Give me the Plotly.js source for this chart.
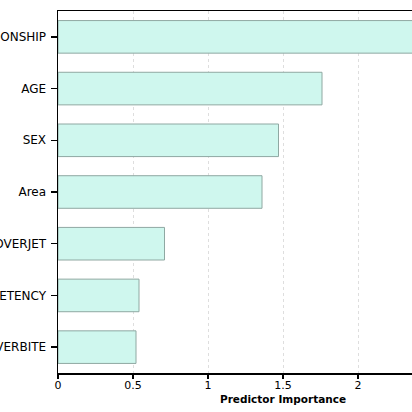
<!DOCTYPE html>
<html>
<head>
<meta charset="utf-8">
<script src="https://cdn.plot.ly/plotly-3.0.1.min.js"></script>
<style>
  html, body { margin: 0; padding: 0; background: #fff; }
  #chart { width: 412px; height: 412px; }
</style>
</head>
<body>
<div id="chart"></div>
<script>
// predictors listed top to bottom, as in the picture
const predictors = ["MOLAR RELATIONSHIP", "AGE", "SEX", "Area", "OVERJET", "LIP COMPETENCY", "OVERBITE"];
const importance = [2.5, 1.76, 1.47, 1.36, 0.71, 0.54, 0.52];
const xTicks = [0, 0.5, 1, 1.5, 2];
const xTickText = ["0", "0.5", "1", "1.5", "2"];

const data = [{
    type: 'bar',
    orientation: 'h',
    x: importance,
    y: predictors,
    marker: {
        color: '#cff7ee',
        line: { color: '#8fa8a2', width: 1 }
    },
    hoverinfo: 'x+y'
}];

const layout = {
    width: 412,
    height: 412,
    margin: { l: 58, r: 0, t: 11, b: 39 },
    paper_bgcolor: '#ffffff',
    plot_bgcolor: '#ffffff',
    showlegend: false,
    bargap: 0.37,
    font: { family: 'DejaVu Sans, Arial, sans-serif', size: 11, color: '#000' },
    xaxis: {
        range: [0, 2.36],
        tickvals: xTicks,
        ticktext: xTickText,
        ticks: 'outside',
        ticklen: 4,
        tickwidth: 1.5,
        tickcolor: '#000',
        showline: true,
        linecolor: '#000',
        linewidth: 1.5,
        mirror: true,
        showgrid: true,
        gridcolor: '#dedede',
        griddash: 'dot',
        gridwidth: 1,
        zeroline: false,
        automargin: false,
        ticklabelstandoff: -3,
        tickfont: { size: 11 }
    },
    yaxis: {
        type: 'category',
        autorange: 'reversed',
        ticks: 'outside',
        ticklen: 6,
        tickwidth: 1.5,
        tickcolor: '#000',
        showline: true,
        linecolor: '#000',
        linewidth: 1.5,
        showgrid: false,
        zeroline: false,
        automargin: false,
        ticklabelstandoff: 2,
        tickfont: { size: 12 }
    },
    annotations: [{
        text: '<b>Predictor Importance</b>',
        xref: 'x',
        yref: 'paper',
        x: 1.5,
        y: -0.072,
        xanchor: 'center',
        yanchor: 'middle',
        showarrow: false,
        font: { size: 10.5, color: '#000' }
    }]
};

Plotly.newPlot('chart', data, layout, { displayModeBar: false, staticPlot: true });
</script>
</body>
</html>
